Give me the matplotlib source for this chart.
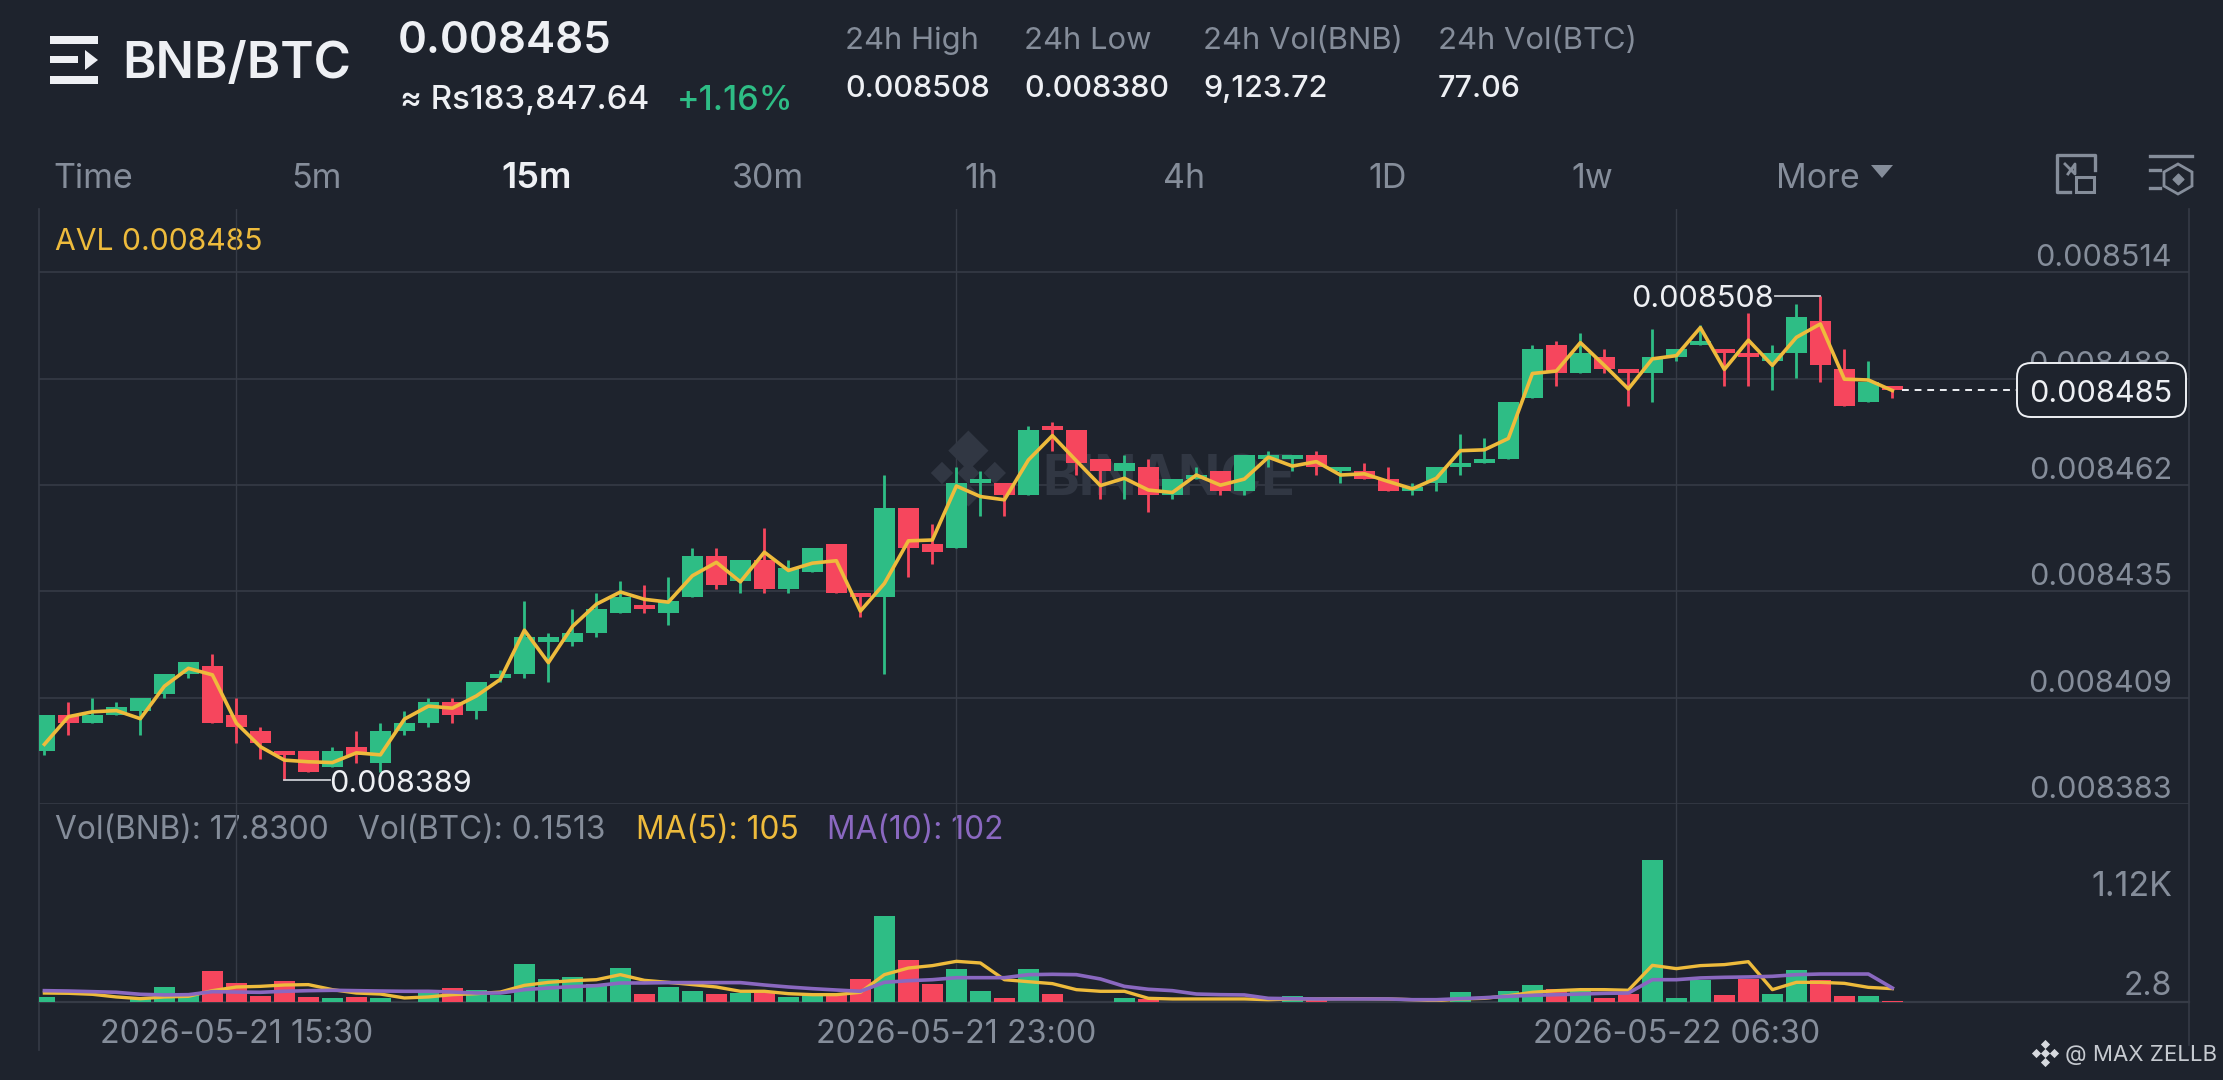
import numpy as np
import matplotlib
matplotlib.use('Agg')
import matplotlib.pyplot as plt
from matplotlib.patches import Rectangle, FancyBboxPatch, Polygon

plt.rcParams['font.family'] = ['Inter', 'Noto Sans', 'DejaVu Sans']

# candles, price in units of 0.000001
candle_open = [8396, 8405, 8403, 8405, 8406, 8410, 8415, 8417, 8405, 8401, 8396, 8396, 8392, 8397, 8393, 8401,
               8403, 8408, 8406, 8414, 8415, 8423, 8423, 8425, 8430, 8432, 8430, 8434, 8444, 8438, 8443, 8436,
               8440, 8447, 8435, 8434, 8456, 8447, 8446, 8462, 8462, 8459, 8476, 8475, 8468, 8465, 8466, 8459,
               8463, 8465, 8460, 8468, 8468, 8469, 8465, 8465, 8463, 8460, 8462, 8466, 8467, 8468, 8483, 8496,
               8489, 8493, 8490, 8489, 8493, 8496, 8495, 8494, 8492, 8494, 8502, 8490, 8482, 8486]
candle_close = [8405, 8403, 8405, 8407, 8409, 8415, 8418, 8403, 8402, 8398, 8395, 8391, 8396, 8395, 8401, 8403,
                8408, 8405, 8413, 8415, 8424, 8424, 8425, 8431, 8434, 8431, 8433, 8444, 8437, 8443, 8436, 8441,
                8446, 8435, 8434, 8456, 8446, 8445, 8462, 8463, 8459, 8475, 8475, 8467, 8465, 8467, 8459, 8463,
                8464, 8460, 8469, 8469, 8469, 8466, 8466, 8463, 8460, 8461, 8466, 8467, 8468, 8482, 8495, 8489,
                8494, 8490, 8489, 8493, 8495, 8497, 8494, 8493, 8494, 8503, 8491, 8481, 8487, 8485]
candle_high = [8405, 8408, 8409, 8408, 8409, 8415, 8418, 8420, 8409, 8402, 8396, 8396, 8397, 8401, 8403, 8406,
               8409, 8409, 8413, 8416, 8433, 8425, 8431, 8435, 8438, 8437, 8439, 8446, 8446, 8443, 8451, 8443,
               8446, 8447, 8435, 8464, 8456, 8452, 8466, 8465, 8462, 8476, 8477, 8475, 8468, 8469, 8468, 8463,
               8466, 8465, 8469, 8470, 8469, 8470, 8466, 8467, 8466, 8462, 8466, 8474, 8473, 8482, 8496, 8497,
               8499, 8495, 8490, 8500, 8495, 8501, 8495, 8504, 8496, 8506, 8508, 8495, 8492, 8486]
candle_low = [8395, 8400, 8403, 8405, 8400, 8409, 8414, 8403, 8398, 8394, 8389, 8391, 8392, 8393, 8391, 8400,
              8402, 8403, 8404, 8413, 8414, 8413, 8422, 8424, 8430, 8430, 8427, 8434, 8436, 8435, 8435, 8435,
              8440, 8435, 8429, 8415, 8439, 8442, 8446, 8454, 8454, 8459, 8470, 8464, 8458, 8458, 8455, 8458,
              8463, 8459, 8459, 8466, 8465, 8464, 8462, 8463, 8460, 8459, 8460, 8464, 8467, 8468, 8483, 8486,
              8489, 8489, 8481, 8482, 8492, 8496, 8486, 8486, 8485, 8488, 8487, 8481, 8482, 8483]
avl_line = [8397.7, 8404.5, 8405.7, 8406, 8404, 8412, 8416.4, 8414.8, 8402.9, 8397.1, 8393.8, 8393.4, 8393.2,
            8395.6, 8395.1, 8403.9, 8407.1, 8406.6, 8409.6, 8413.7, 8425.8, 8417.8, 8426.7, 8432.2, 8435.2,
            8433.4, 8432.7, 8439.2, 8442.5, 8437.7, 8445, 8440.5, 8442.3, 8442.9, 8430.5, 8437.3, 8447.8, 8448,
            8461.3, 8458.7, 8457.9, 8467.7, 8473.7, 8467.5, 8461.4, 8463.2, 8460.3, 8459.7, 8464, 8461.5, 8463,
            8468.4, 8466.2, 8467.3, 8464, 8464.3, 8462.4, 8460.6, 8463.2, 8470, 8470.2, 8473, 8489, 8489.6,
            8496.6, 8491, 8485.2, 8492.6, 8493.4, 8500.3, 8490, 8497.2, 8491, 8497.9, 8501.2, 8487.6, 8487.4,
            8484.8]

volume = [58, 5, 5, 5, 43, 163, 76, 346, 211, 65, 236, 61, 43, 61, 43, 5, 120, 156, 138, 76, 419, 251, 277, 200,
          375, 87, 167, 127, 90, 98, 127, 54, 76, 83, 258, 948, 466, 200, 364, 127, 47, 368, 90, 5, 5, 47, 36,
          5, 5, 5, 5, 5, 72, 47, 5, 5, 5, 5, 5, 116, 5, 127, 185, 149, 127, 50, 90, 1554, 43, 247, 80, 255, 87,
          357, 247, 72, 65, 18]
ma5 = [101, 98, 87, 58, 39, 58, 65, 127, 167, 174, 189, 193, 138, 101, 90, 47, 58, 83, 94, 112, 185, 218, 236,
       247, 302, 240, 218, 193, 167, 120, 120, 94, 83, 83, 109, 302, 375, 401, 448, 430, 247, 225, 204, 138, 120,
       120, 43, 36, 36, 36, 36, 28, 36, 36, 39, 39, 36, 28, 17, 36, 43, 72, 109, 127, 138, 138, 131, 404, 368,
       401, 412, 444, 138, 218, 218, 207, 163, 149]
ma10 = [127, 123, 116, 109, 87, 80, 83, 116, 112, 109, 120, 127, 131, 127, 123, 120, 120, 112, 101, 101, 138,
        156, 171, 182, 211, 211, 215, 215, 215, 215, 189, 167, 149, 134, 120, 218, 236, 247, 269, 269, 269, 302,
        306, 302, 255, 174, 142, 127, 90, 83, 80, 43, 39, 36, 36, 36, 36, 28, 28, 39, 50, 65, 76, 83, 90, 98,
        101, 247, 247, 266, 273, 277, 284, 302, 309, 309, 309, 156]

price_grid = [8514, 8487.65, 8461.55, 8435.45, 8409.1, 8383]
price_labels = ['0.008514', '0.008488', '0.008462', '0.008435', '0.008409', '0.008383']
date_idx = [8, 38, 68]
date_labels = ['2026-05-21 15:30', '2026-05-21 23:00', '2026-05-22 06:30']
timeframes = ['Time', '5m', '15m', '30m', '1h', '4h', '1D', '1w', 'More']
timeframe_x = [53, 291, 501, 732, 964, 1163, 1368, 1571, 1776]
stat_names = ['24h High', '24h Low', '24h Vol(BNB)', '24h Vol(BTC)']
stat_values = ['0.008508', '0.008380', '9,123.72', '77.06']
stat_x = [845, 1024, 1203, 1438]

BG = '#1e232d'
GRID = '#363b46'
GREEN = '#2ebd85'
RED = '#f6465d'
GREY = '#858d9a'
WHITE = '#eef0f4'
YELLOW = '#eebb3c'
PURPLE = '#8a68c0'
WATERMARK = '#313743'
W, H = 2223, 1080
VA = 'center_baseline'


def px_axes(x0, y0, x1, y1):
    return fig.add_axes([x0 / W, 1 - y1 / H, (x1 - x0) / W, (y1 - y0) / H])


fig = plt.figure(figsize=(W / 100, H / 100), dpi=100, facecolor=BG)

# page layer in pixels, for the app chrome around the chart
page = px_axes(0, 0, W, H)
page.set_xlim(0, W)
page.set_ylim(H, 0)
page.axis('off')

for y0 in [36, 76]:
    page.add_patch(Rectangle((50, y0), 48, 8, color=WHITE, lw=0))
page.add_patch(Rectangle((50, 56), 28, 7, color=WHITE, lw=0))
page.add_patch(Polygon([[85, 50], [98, 60], [85, 70]], color=WHITE, lw=0))

page.text(122, 60, 'BNB/BTC', color=WHITE, fontsize=36.5, fontweight='semibold', va=VA)
page.text(398, 37, '0.008485', color=WHITE, fontsize=31.5, fontweight='semibold', va=VA)
page.text(400, 97, '≈ Rs183,847.64', color=WHITE, fontsize=23.8, fontweight='medium', va=VA)
page.text(677, 97, '+1.16%', color=GREEN, fontsize=24.5, fontweight='medium', va=VA)

for x, name, value in zip(stat_x, stat_names, stat_values):
    page.text(x, 38, name, color=GREY, fontsize=22.3, va=VA)
    page.text(x, 86, value, color=WHITE, fontsize=22, fontweight='medium', va=VA)

for x, name in zip(timeframe_x, timeframes):
    active = name == '15m'
    page.text(x, 175, name, color=WHITE if active else GREY, fontsize=26 if active else 24.5,
              fontweight='semibold' if active else 'normal', va=VA)
page.add_patch(Polygon([[1871, 165], [1893, 165], [1882, 178]], color=GREY, lw=0))

# the two toolbar icons
page.plot([2095, 2095, 2057, 2057, 2070], [170, 155, 155, 192, 192], color=GREY, lw=2.4)
page.add_patch(Rectangle((2076, 177), 18, 15, fill=False, ec=GREY, lw=2.2))
page.plot([2065, 2075, 2075, 2068], [164, 174, 164, 174], color=GREY, lw=2)
page.plot([2150, 2192], [156, 156], color=GREY, lw=2.4)
page.plot([2150, 2160], [170, 170], color=GREY, lw=2.4)
page.plot([2150, 2160], [188, 188], color=GREY, lw=2.4)
page.add_patch(Polygon([[2178, 164], [2192, 172], [2192, 186], [2178, 194], [2164, 186], [2164, 172]],
                       fill=False, ec=GREY, lw=2))
page.scatter([2178], [179], marker='D', s=30, color=GREY)

# vertical frame and time grid run through both panes
page.plot([39, 39], [209, 1050], color=GRID, lw=1.2)
page.plot([2189, 2189], [209, 1045], color=GRID, lw=1.2)

# price pane: y pixel 804 is 8383 and 272 is 8514
ax = px_axes(39, 209, 2189, 804)
ax.patch.set_alpha(0)
ax.set_xlim(-0.225, 89.36)
ax.set_ylim(8383, 8529.5)
ax.axis('off')

x = np.arange(len(candle_open))
o = np.array(candle_open)
c = np.array(candle_close)
h = np.array(candle_high)
l = np.array(candle_low)
colors = [GREEN if b >= a else RED for a, b in zip(o, c)]

for val in price_grid:
    ax.axhline(val, color=GRID, lw=1.2, zorder=1)
for idx in date_idx:
    ax.axvline(idx, color=GRID, lw=1, zorder=1)

# faint exchange watermark
ax.text(41.6, 8464, 'BINANCE', color=WATERMARK, fontsize=40, fontweight='bold', va=VA, zorder=1.5)
ax.scatter([37.4, 38.5, 39.6, 38.5, 38.5], [8464.5, 8464.5, 8464.5, 8470, 8459], marker='D',
           s=[130, 130, 130, 420, 130], color=WATERMARK, zorder=1.5, lw=0)

ax.vlines(x, l, h, colors=colors, lw=2, zorder=2)
ax.bar(x, np.abs(c - o), bottom=np.minimum(o, c), width=0.87, color=colors, zorder=3)
ax.plot(x, avl_line, color=YELLOW, lw=2.6, zorder=4, solid_joinstyle='round')

hi = int(np.argmax(h))
lo = int(np.argmin(l))
ax.plot([hi - 1.9, hi], [h[hi], h[hi]], color='#c9ccd2', lw=1.3, zorder=5)
ax.text(hi - 1.95, h[hi], '0.008508', color=WHITE, fontsize=22, ha='right', va=VA, zorder=5)
ax.plot([lo, lo + 1.9], [l[lo], l[lo]], color='#c9ccd2', lw=1.3, zorder=5)
ax.text(lo + 1.85, l[lo] - 0.4, '0.008389', color=WHITE, fontsize=22, ha='left', va=VA, zorder=5)

for val, label in zip(price_grid, price_labels):
    ax.annotate(label, (2172 / W, val), xycoords=('figure fraction', 'data'), xytext=(0, 12.2),
                textcoords='offset points', color=GREY, fontsize=22, ha='right', va=VA, zorder=2)

ax.plot([77.4, 82.25], [candle_close[-1], candle_close[-1]], color=WHITE, lw=1.4, dashes=(3.5, 3), zorder=5)

page.text(55, 239, 'AVL 0.008485', color=YELLOW, fontsize=21.7, va=VA)

# volume pane: baseline at pixel 1002
vol = px_axes(39, 804, 2189, 1002)
vol.patch.set_alpha(0)
vol.set_xlim(-0.225, 89.36)
vol.set_ylim(2.8, 2170)
vol.axis('off')
for idx in date_idx:
    vol.axvline(idx, color=GRID, lw=1, zorder=1)
vol.bar(x, np.array(volume) - 2.8, bottom=2.8, width=0.87, color=colors, zorder=3)
vol.plot(x, ma5, color=YELLOW, lw=2.4, zorder=4)
vol.plot(x, ma10, color=PURPLE, lw=2.6, zorder=5)

page.plot([39, 2189], [1002, 1002], color=GRID, lw=1.6, zorder=1)
page.text(2172, 883, '1.12K', color=GREY, fontsize=24.5, ha='right', va=VA)
page.text(2172, 983, '2.8', color=GREY, fontsize=23, ha='right', va=VA)

page.text(55, 827, 'Vol(BNB): 17.8300', color=GREY, fontsize=22.8, va=VA)
page.text(358, 827, 'Vol(BTC): 0.1513', color=GREY, fontsize=22.8, va=VA)
page.text(636, 827, 'MA(5): 105', color=YELLOW, fontsize=22.8, va=VA)
page.text(827, 827, 'MA(10): 102', color=PURPLE, fontsize=22.8, va=VA)

for idx, label in zip(date_idx, date_labels):
    page.text(44.4 + 24 * idx, 1031, label, color=GREY, fontsize=23.3, ha='center', va=VA)

# current price tag sits above everything
tag = px_axes(0, 0, W, H)
tag.set_xlim(0, W)
tag.set_ylim(H, 0)
tag.axis('off')
tag.patch.set_alpha(0)
tag.add_patch(FancyBboxPatch((2017, 363), 169, 54, boxstyle='round,pad=0,rounding_size=14', fc=BG, ec=WHITE, lw=1.4))
tag.text(2172, 391, '0.008485', color=WHITE, fontsize=22, ha='right', va=VA)

# signature in the corner
tag.scatter([2036, 2045, 2054, 2045, 2045], [1053, 1053, 1053, 1044, 1062], marker='D', s=22, color='#d6d9de', lw=0)
tag.text(2065, 1053, '@ MAX ZELLB', color='#c6cad0', fontsize=16, va=VA)

fig.savefig('out.png', dpi=100, facecolor=BG)
